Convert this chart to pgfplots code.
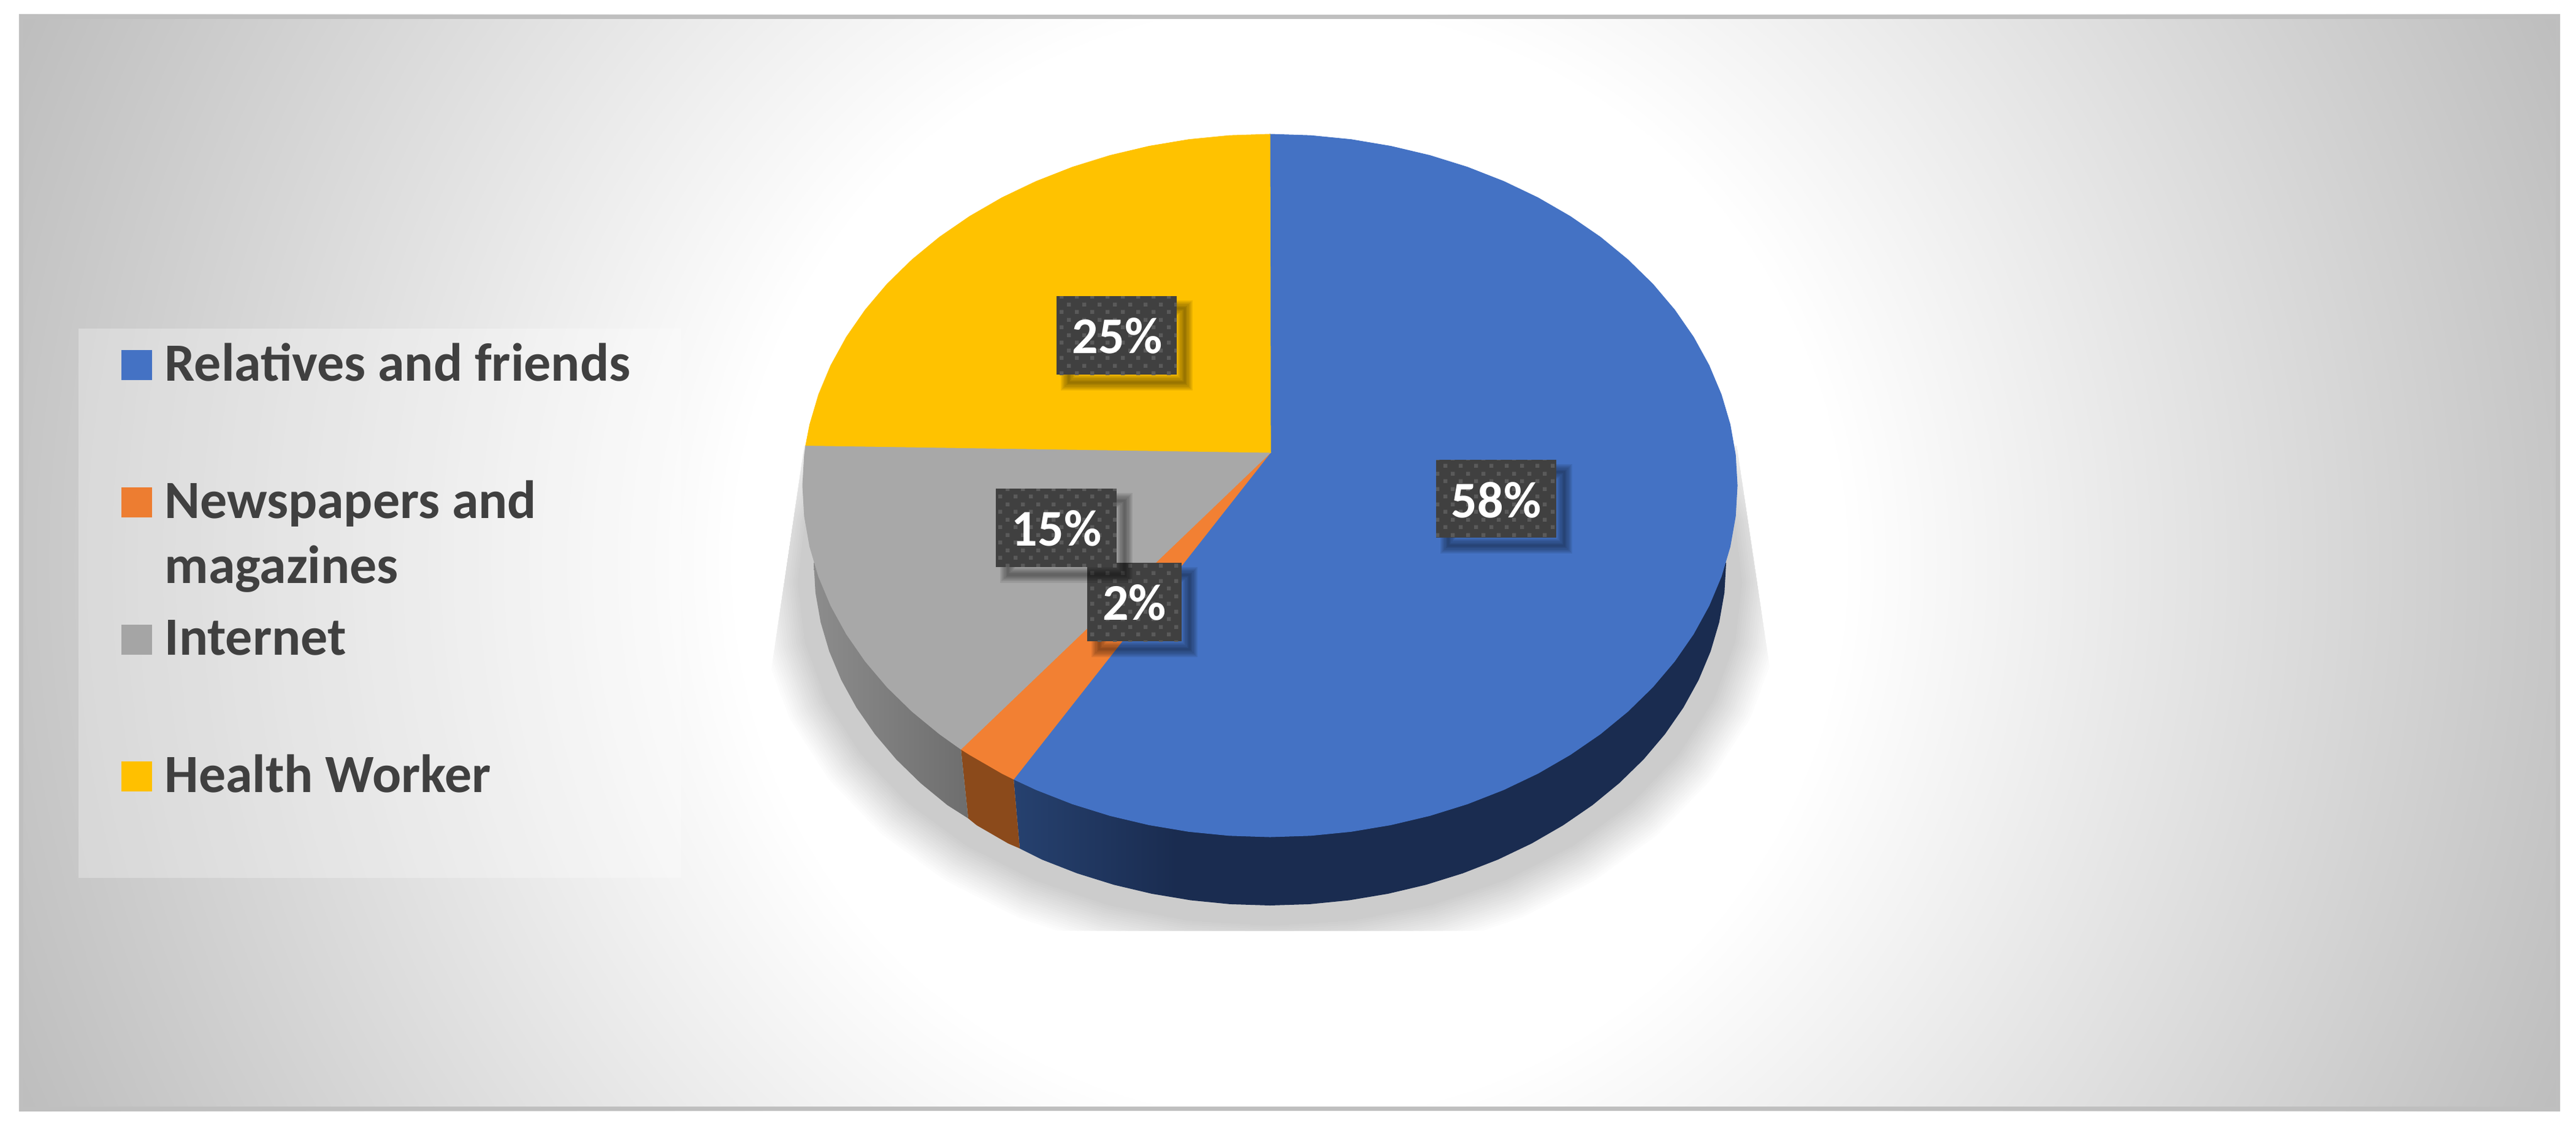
\documentclass[border=0pt]{standalone}
\usepackage{fontspec}
\setmainfont{Carlito}
\usepackage{pgfplots}
\usepackage{pgfplotstable}
\usetikzlibrary{patterns}
\pgfplotsset{compat=1.18}

\definecolor{bgouter}{HTML}{BDBDBD}
\definecolor{framegray}{HTML}{BFBFBF}
\definecolor{txt}{HTML}{404040}
\definecolor{labfill}{HTML}{404040}
\definecolor{labdot}{HTML}{5A5A5A}
\definecolor{blueTop}{HTML}{4472C4}
\definecolor{orangeTop}{HTML}{F28033}
\definecolor{grayTop}{HTML}{A8A8A8}
\definecolor{yellowTop}{HTML}{FFC200}
\definecolor{orangeSide}{HTML}{8B4A1B}
\definecolor{blueSideA}{HTML}{26416F}
\definecolor{blueSideB}{HTML}{1A2C50}
\definecolor{blueSwatch}{HTML}{4472C4}
\definecolor{orangeSwatch}{HTML}{ED7D31}
\definecolor{graySwatch}{HTML}{A5A5A5}
\definecolor{yellowSwatch}{HTML}{FFC000}

\tikzset{
  lab/.style={font=\fontsize{23.9}{28}\selectfont\bfseries, inner sep=0pt, anchor=base, text=white},
  leg/.style={font=\fontsize{25}{30}\selectfont\bfseries, inner sep=0pt, anchor=base west, text=txt},
}

% 25bp is the edge of the filled path in these shadings
\pgfdeclareradialshading{bgglow}{\pgfpoint{0bp}{0bp}}{%
  color(0bp)=(white); color(9.96bp)=(white); color(25bp)=(bgouter); color(50bp)=(bgouter)}
\pgfdeclarehorizontalshading{blueside}{100bp}{%
  color(0bp)=(blueSideA); color(25bp)=(blueSideA); color(36.4bp)=(blueSideB); color(100bp)=(blueSideB)}
\pgfdeclarepatternformonly{labdots}{\pgfqpoint{0pt}{0pt}}{\pgfqpoint{7.12pt}{7.12pt}}{\pgfqpoint{7.12pt}{7.12pt}}{%
  \pgfpathrectangle{\pgfqpoint{0.6pt}{0.6pt}}{\pgfqpoint{1.85pt}{1.85pt}}%
  \pgfpathrectangle{\pgfqpoint{4.16pt}{4.16pt}}{\pgfqpoint{1.85pt}{1.85pt}}%
  \pgfusepath{fill}}

% shadow outline under the pie, pixels of the picture
\pgfplotstableread{
x y
2841 950
2829.3 1047.2
2794.6 1141.5
2737.8 1230
2660.8 1310
2566 1379
2456 1435
2334.3 1476.2
2204.7 1501.5
2071 1510
1937.3 1501.5
1807.7 1476.2
1686 1435
1576 1379
1481.2 1310
1404.2 1230
1347.4 1141.5
1312.7 1047.2
1301 950
1312.7 852.8
1347.4 758.5
2794.6 758.5
2829.3 852.8
}\shadowrim

\newcommand{\labelshadow}[4]{%
  \pgfplotsinvokeforeach{1,...,6}{%
    \addplot[draw=black,opacity=0.08,line width={##1*1.25pt},line join=miter]
      coordinates {(#1,#3) (#2,#3) (#2,#4) (#1,#4)} --cycle;
  }%
}
\newcommand{\labelbox}[4]{%
  \addplot[fill=labfill,draw=none] coordinates {(#1,#3) (#2,#3) (#2,#4) (#1,#4)} --cycle;
  \addplot[draw=none,pattern=labdots,pattern color=labdot] coordinates {(#1,#3) (#2,#3) (#2,#4) (#1,#4)} --cycle;
}

\begin{document}
\begin{tikzpicture}
\useasboundingbox (0,0) rectangle (42.01cm,18.40cm);
\begin{axis}[
    at={(0,0)}, anchor=south west,
    scale only axis, width=42.01cm, height=18.40cm,
    xmin=0, xmax=4201, ymin=0, ymax=1840, y dir=reverse,
    hide axis,
]
% background
\begin{scope}
\clip (axis cs:31,24) rectangle (axis cs:4175,1812);
\addplot[draw=none,shade,shading=bgglow]
  coordinates {(-157,-1342) (4363,-1342) (4363,3178) (-157,3178)} --cycle;
\end{scope}
\addplot[draw=framegray,line width=2pt]
  coordinates {(34.5,27.5) (4171.5,27.5) (4171.5,1808.5) (34.5,1808.5)} --cycle;

% legend panel
\addplot[fill=white,fill opacity=0.28,draw=none]
  coordinates {(128,536) (1111,536) (1111,1432) (128,1432)} --cycle;
\addplot[fill=blueSwatch,draw=none] coordinates {(198,571) (248,571) (248,620) (198,620)} --cycle;
\addplot[fill=orangeSwatch,draw=none] coordinates {(198,795) (248,795) (248,844) (198,844)} --cycle;
\addplot[fill=graySwatch,draw=none] coordinates {(198,1019) (248,1019) (248,1068) (198,1068)} --cycle;
\addplot[fill=yellowSwatch,draw=none] coordinates {(198,1242) (248,1242) (248,1291) (198,1291)} --cycle;
\node[leg] at (axis cs:268,621) {Relatives and friends};
\node[leg] at (axis cs:268,845) {Newspapers and};
\node[leg] at (axis cs:268,951) {magazines};
\node[leg] at (axis cs:268,1068) {Internet};
\node[leg] at (axis cs:268,1292) {Health Worker};

% soft shadow under the pie
\begin{scope}
\clip (axis cs:1312,727) -- (axis cs:1257,1100) -- (axis cs:1257,1518) -- (axis cs:2886,1518)
  -- (axis cs:2886,1090) -- (axis cs:2832,727) -- cycle;
\pgfplotsinvokeforeach{1,...,20}{%
  \addplot[fill=black!#1,draw=black!#1,line width={(20-#1)*1.992pt},line join=round]
    table[x=x,y=y] {\shadowrim} --cycle;
}
\end{scope}

% pie side, lower rim
\addplot[draw=none,shade,shading=blueside] coordinates {
  (2815,918) (2812.2,966.7) (2803.7,1015) (2789.6,1062.7) (2770.1,1109.2) (2745.3,1154.2)
  (2715.3,1197.5) (2680.5,1238.6) (2640.9,1277.3) (2597.1,1313.3) (2549.2,1346.2)
  (2497.8,1375.9) (2443,1402.1) (2385.4,1424.6) (2325.4,1443.3) (2263.6,1457.9)
  (2200.2,1468.5) (2135.9,1474.9) (2071,1477) (2006.1,1474.9) (1941.8,1468.5)
  (1878.4,1457.9) (1816.6,1443.3) (1756.6,1424.6) (1699,1402.1) (1663,1384)
  (1653,1271) (2071,900)
} --cycle;
\addplot[fill=orangeSide,draw=none] coordinates {
  (1653,1271) (1663,1384) (1644.2,1375.9) (1592.8,1346.2) (1579,1335) (1567,1222)
} --cycle;
\addplot[draw=none,left color=black!45,right color=black!57] coordinates {
  (1567,1222) (1579,1335) (1544.9,1313.3) (1501.1,1277.3) (1461.5,1238.6) (1426.7,1197.5)
  (1396.7,1154.2) (1371.9,1109.2) (1352.4,1062.7) (1338.3,1015) (1329.8,966.7) (1327,918)
  (1500,900)
} --cycle;

% pie top: 58, 2, 15, 25 per cent
\addplot[fill=blueTop,draw=blueTop,line width=0.3pt] coordinates {
  (2072,738) (2071,219) (2137.4,221.2) (2203.3,227.7) (2268.2,238.6) (2331.6,253.6)
  (2393,272.7) (2452,295.8) (2508.1,322.6) (2560.8,353.1) (2609.8,386.8) (2654.7,423.7)
  (2695.2,463.3) (2730.9,505.5) (2761.6,549.8) (2787,596) (2807,643.7) (2821.4,692.5)
  (2830.1,742) (2833,792) (2830.1,842) (2821.4,891.5) (2807,940.3) (2787,988)
  (2761.6,1034.2) (2730.9,1078.5) (2695.2,1120.7) (2654.7,1160.3) (2609.8,1197.2)
  (2560.8,1230.9) (2508.1,1261.4) (2452,1288.2) (2393,1311.3) (2331.6,1330.4)
  (2268.2,1345.4) (2203.3,1356.3) (2137.4,1362.8) (2071,1365) (2004.6,1362.8)
  (1938.7,1356.3) (1873.8,1345.4) (1810.4,1330.4) (1749,1311.3) (1690,1288.2) (1653,1271)
} --cycle;
\addplot[fill=orangeTop,draw=orangeTop,line width=0.3pt] coordinates {
  (2072,738) (1653,1271) (1633.9,1261.4) (1581.2,1230.9) (1567,1222)
} --cycle;
\addplot[fill=grayTop,draw=grayTop,line width=0.3pt] coordinates {
  (2072,738) (1567,1222) (1532.2,1197.2) (1487.3,1160.3) (1446.8,1120.7) (1411.1,1078.5)
  (1380.4,1034.2) (1355,988) (1335,940.3) (1320.6,891.5) (1311.9,842) (1309,792)
  (1311.9,742) (1314,726.5)
} --cycle;
\addplot[fill=yellowTop,draw=yellowTop,line width=0.3pt] coordinates {
  (2072,738) (1314,726.5) (1320.6,692.5) (1335,643.7) (1355,596) (1380.4,549.8)
  (1411.1,505.5) (1446.8,463.3) (1487.3,423.7) (1532.2,386.8) (1581.2,353.1)
  (1633.9,322.6) (1690,295.8) (1749,272.7) (1810.4,253.6) (1873.8,238.6)
  (1938.7,227.7) (2004.6,221.2) (2071,219)
} --cycle;

% data labels
\labelshadow{2362}{2551}{770}{890}
\labelbox{2342}{2538}{750}{877}
\node[lab] at (axis cs:2440,844) {58\%};
\labelshadow{1743}{1932}{503}{624}
\labelbox{1723}{1919}{483}{611}
\node[lab] at (axis cs:1822,576) {25\%};
\labelshadow{1793}{1940}{938}{1059}
\labelbox{1773}{1927}{918}{1046}
\node[lab] at (axis cs:1850,1011) {2\%};
\labelshadow{1644}{1834}{817}{937.5}
\labelbox{1624}{1821}{797}{924.5}
\node[lab] at (axis cs:1723,890) {15\%};
\end{axis}
\end{tikzpicture}
\end{document}
